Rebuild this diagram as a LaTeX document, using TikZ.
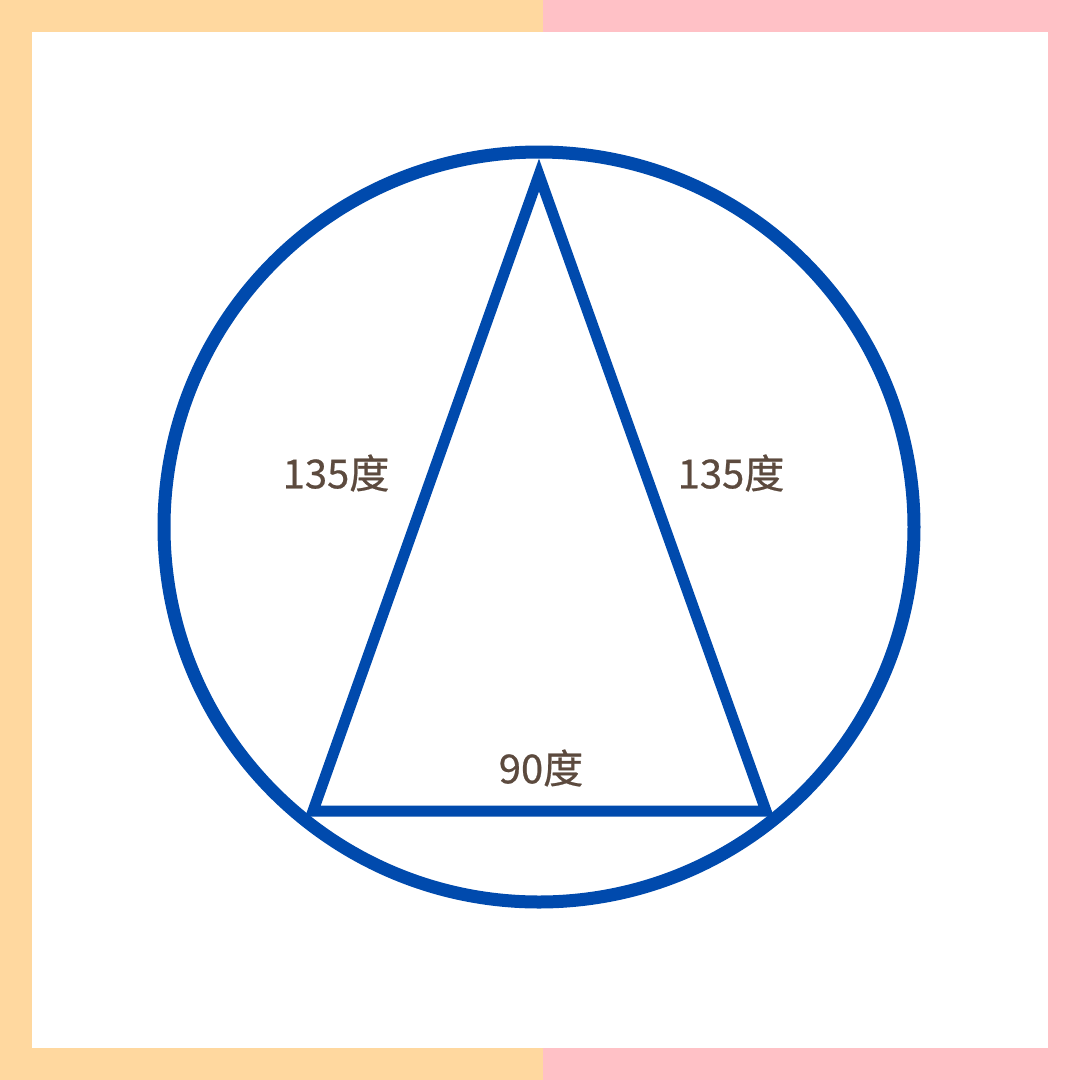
\documentclass[tikz,border=0pt]{standalone}
\usepackage{fontspec}
\newfontfamily\cjk[FakeBold=0.6]{Noto Sans CJK SC}
\definecolor{edgeblue}{HTML}{004AAD}
\definecolor{labelbrown}{HTML}{5C4A3E}
\definecolor{frameorange}{HTML}{FFD89F}
\definecolor{framepink}{HTML}{FFC1C6}
\begin{document}
\begin{tikzpicture}[x = 1pt, y = -1pt,
        angle/.style = {text = labelbrown, font = \cjk\fontsize{40}{44}\selectfont, inner sep = 0pt}]
        \useasboundingbox (0, 0) rectangle (1080, 1080);
        \fill [frameorange] (0, 0) rectangle (543, 1080);
        \fill [framepink] (543, 0) rectangle (1080, 1080);
        \fill [white] (32, 32) rectangle (1048, 1048);
        \draw [edgeblue, line width = 13pt] (539, 527) circle [radius = 375];
        \coordinate (apex) at (539, 175);
        \coordinate (left) at (313, 811);
        \coordinate (right) at (766, 811);
        \draw [edgeblue, line width = 11pt, miter limit = 20] (apex) -- (left) -- (right) -- cycle;
        \node [angle] (arcleft) at (336, 473) {135度};
        \node [angle] (arcright) at (731, 473) {135度};
        \node [angle] (arcbottom) at (541, 768) {90度};
    \end{tikzpicture}
\end{document}
